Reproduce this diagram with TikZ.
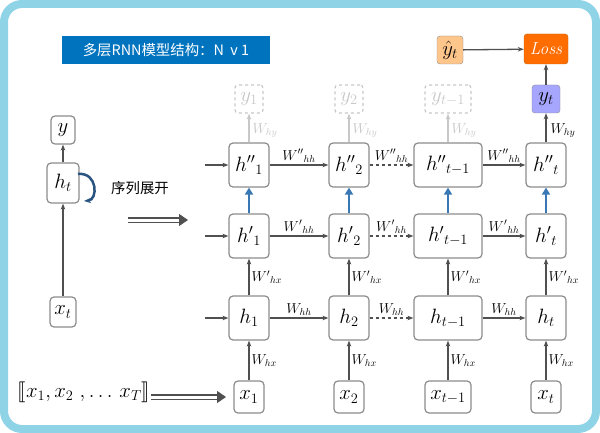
\documentclass[tikz,border=0pt]{standalone}
\usepackage{fontspec}
\usepackage{amsmath,stmaryrd}
\newfontfamily\cjk{Noto Sans CJK SC}
\usetikzlibrary{arrows.meta}
\definecolor{frame}{HTML}{8ED3E6}
\definecolor{bx}{HTML}{8C8C8C}
\definecolor{ar}{HTML}{505050}
\definecolor{ghost}{HTML}{C8C8C8}
\definecolor{bluear}{HTML}{3A78B5}
\tikzset{
 cell/.style={draw=bx,line width=1.2pt,rounded corners=4pt,fill=white,minimum width=40pt,minimum height=44pt,inner sep=1pt,font=\huge},
 wide/.style={minimum width=68pt},
 inbox/.style={draw=bx,line width=1.2pt,rounded corners=4pt,fill=white,minimum width=30pt,minimum height=32pt,inner sep=1pt,font=\huge},
 gbox/.style={draw=ghost,dashed,line width=1.2pt,rounded corners=3pt,minimum width=28pt,minimum height=28pt,inner sep=1pt,text=ghost,font=\huge},
 con/.style={-{Stealth[length=6pt]},draw=ar,line width=1.3pt},
 dcon/.style={con,dashed},
 gcon/.style={-{Stealth[length=6pt]},draw=ghost,line width=1.3pt},
 blu/.style={-{Triangle[length=7pt,width=8pt]},draw=bluear,line width=2.5pt},
 lab/.style={font=\Large,text=black,inner sep=1pt},
 glab/.style={font=\Large,text=ghost,inner sep=1pt},
 dbl/.style={-{Triangle[length=9pt,width=12pt]},double,double distance=3pt,draw=ar,line width=1.3pt},
}
\begin{document}
\begin{tikzpicture}[x=1pt,y=-1pt]
\useasboundingbox (0,0) rectangle (600,433);
\draw[frame,line width=8pt,rounded corners=18pt,fill=white] (4,4) rectangle (596,429);
% title
\node[fill=blue!40!cyan!75!black,text=white,minimum width=208pt,minimum height=28pt,font=\cjk\Large] (title) at (166,50) {多层RNN模型结构：N\ \ v 1};
% left
\node[inbox,minimum width=24pt,minimum height=28pt] (ly) at (63,130) {$y$};
\node[inbox,minimum width=32pt,minimum height=40pt] (lh) at (63,183) {$h_t$};
\node[inbox,minimum width=26pt,minimum height=30pt] (lx) at (63,312) {$x_t$};
\draw[con] (lh) -- (ly);
\draw[con] (lx) -- (lh);
\draw[-{Stealth[length=7pt]},draw=bluear!70!black,line width=2.5pt] (78,174) .. controls (98,172) and (98,200) .. (84,201);
\node[font=\cjk\Large] (zk) at (140,188) {序列展开};
\coordinate (d1s) at (128,220); \coordinate (d1e) at (188,220);
\draw[dbl] (d1s) -- (d1e);
% top
\node[draw=bx,fill=orange!45!white,rounded corners=3pt,minimum width=26pt,minimum height=28pt,inner sep=0pt,font=\huge] (yh) at (450,50) {$\hat{y}_t$};
\node[draw=orange!80!black,fill=orange!85!red,rounded corners=3pt,minimum width=44pt,minimum height=30pt,inner sep=1pt,text=white,font=\LARGE\itshape] (loss) at (546,49) {Loss};
\node[draw=bx,fill=blue!35!white,rounded corners=3pt,minimum width=28pt,minimum height=28pt,inner sep=1pt,font=\huge] (yt) at (546,99) {$y_t$};
\draw[con] (yh) -- (loss);
\draw[con] (yt) -- (loss);
% cells
\foreach \c/\x/\s/\w in {1/249/1/cell,2/349/2/cell,3/448/{t-1}/wide,4/546/t/cell}{
 \node[cell,\w] (a\c) at (\x,165) {$h''{}_{\s}$};
 \node[cell,\w] (b\c) at (\x,236) {$h'{}_{\s}$};
 \node[cell,\w] (c\c) at (\x,318) {$h_{\s}$};
}
\node[inbox] (x1) at (249,397) {$x_1$};
\node[inbox] (x2) at (349,397) {$x_2$};
\node[inbox,minimum width=46pt] (x3) at (448,397) {$x_{t-1}$};
\node[inbox] (x4) at (546,397) {$x_t$};
\node[gbox] (g1) at (249,99) {$y_1$};
\node[gbox] (g2) at (349,99) {$y_2$};
\node[gbox,minimum width=46pt] (g3) at (448,99) {$y_{t-1}$};
\foreach \c in {1,2,3}{
 \draw[gcon] (a\c) -- (g\c) node[glab,pos=0.4,right=2pt] {$W_{hy}$};
}
\draw[con] (a4) -- (yt) node[lab,pos=0.4,right=3pt] {$W_{hy}$};
\foreach \c in {1,2,3,4}{
 \draw[blu] (b\c) -- (a\c);
 \draw[con] (c\c) -- (b\c) node[lab,midway,right=1pt] {$W'{}_{hx}$};
 \draw[con] (x\c) -- (c\c) node[lab,midway,right=1pt] {$W_{hx}$};
}
\draw[con] (a1) -- (a2) node[lab,midway,above=1pt] {$W''{}_{hh}$};
\draw[dcon] (a2) -- (a3) node[lab,midway,above=1pt] {$W''{}_{hh}$};
\draw[con] (a3) -- (a4) node[lab,midway,above=1pt] {$W''{}_{hh}$};
\draw[con] (b1) -- (b2) node[lab,midway,above=1pt] {$W'{}_{hh}$};
\draw[dcon] (b2) -- (b3) node[lab,midway,above=1pt] {$W'{}_{hh}$};
\draw[con] (b3) -- (b4) node[lab,midway,above=1pt] {$W'{}_{hh}$};
\draw[con] (c1) -- (c2) node[lab,midway,above=1pt] {$W_{hh}$};
\draw[dcon] (c2) -- (c3) node[lab,midway,above=1pt] {$W_{hh}$};
\draw[con] (c3) -- (c4) node[lab,midway,above=1pt] {$W_{hh}$};
\coordinate (i1) at (205,165); \coordinate (i2) at (205,236); \coordinate (i3) at (205,318);
\draw[con] (i1) -- (a1); \draw[con] (i2) -- (b1); \draw[con] (i3) -- (c1);
\node[font=\huge,inner sep=1pt] (seq) at (84,392) {$\llbracket x_1, x_2\ , \dots\, x_T\rrbracket$};
\coordinate (d2e) at (226,397);
\draw[dbl] (seq.east|-d2e) -- (d2e);
\end{tikzpicture}
\end{document}
